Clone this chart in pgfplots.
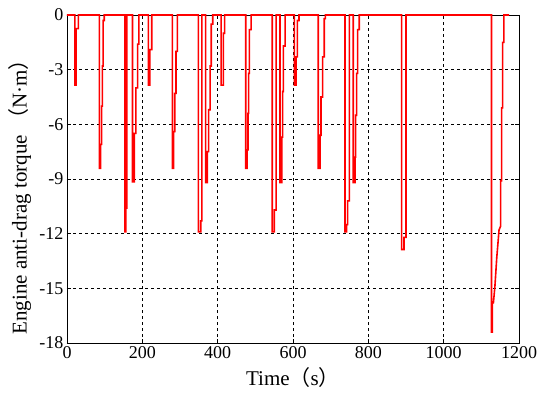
\documentclass[border=0pt]{standalone}
\usepackage{fontspec}
\setmainfont{Liberation Serif}
\newfontfamily\cjk{Noto Sans CJK SC}
\usepackage{pgfplots}
\pgfplotsset{compat=1.18}
\begin{document}
\begin{tikzpicture}
\begin{axis}[
  scale only axis, width=452pt, height=328pt,
  xmin=0, xmax=1200, ymin=-18, ymax=0,
  xtick={0,200,...,1200}, ytick={-18,-15,...,0},
  tick align=inside, major tick length=4.5pt,
  xmajorgrids, ymajorgrids,
  grid style={black, dash pattern=on 3pt off 3pt, line width=0.7pt},
  axis line style={black, line width=0.8pt},
  every tick/.style={black, line width=0.8pt},
  /pgf/number format/assume math mode=true,
  /pgf/number format/1000 sep={},
  tick label style={font=\fontsize{18}{18}\selectfont},
  label style={font=\fontsize{21}{21}\selectfont},
  xlabel={Time{\cjk （}s{\cjk ）}},
  xlabel style={at={([yshift=-42pt]rel axis cs:0.5,0)}, anchor=base},
  ylabel={Engine anti-drag torque {\cjk （}N·m{\cjk ）}},
  ylabel style={at={([xshift=-47pt,yshift=-13pt]rel axis cs:0,0.5)}, anchor=center},
  clip=false,
]
\coordinate (sw) at (rel axis cs:0,0);
\coordinate (ne) at (rel axis cs:1,1);
\addplot[red, line width=1.6pt] coordinates {
(0,0)
(21,0)(21,-3.85)(24,-3.85)(24,-0.75)(30,-0.75)(30,0)
(86,0)(86,-8.42)(89,-8.42)(89,-7.1)(92,-7.1)(92,-5.0)(94,-5.0)(94,-2.8)(96,-2.8)(96,-0.3)(99,-0.3)(99,0)
(154,0)(154,-11.9)(156,-11.9)(156,-10.6)(159,-10.6)(159,0)
(174,0)(174,-9.16)(179,-9.16)(179,-6.5)(183,-6.5)(183,-4.0)(187.5,-4.0)(187.5,-1.6)(191,-1.6)(191,0)
(216,0)(216,-3.85)(220,-3.85)(220,-1.9)(225,-1.9)(225,0)
(279.6,0)(279.6,-8.42)(283,-8.42)(283,-6.4)(286,-6.4)(286,-4.3)(289.5,-4.3)(289.5,-2.0)(293,-2.0)(293,0)
(348.6,0)(348.6,-11.9)(355,-11.9)(355,-11.3)(358,-11.3)(358,0)
(368,0)(368,-9.2)(372.6,-9.2)(372.6,-7.5)(376,-7.5)(376,-5.2)(380,-5.2)(380,-2.8)(383,-2.8)(383,-0.5)(387,-0.5)(387,0)
(409,0)(409,-3.85)(415,-3.85)(415,-1.0)(418.6,-1.0)(418.6,0)
(474.5,0)(474.5,-8.42)(478,-8.42)(478,-7.4)(480.5,-7.4)(480.5,-5.4)(482,-5.4)(482,-3.2)(484,-3.2)(484,-0.8)(489,-0.8)(489,0)
(545,0)(545,-11.9)(550.5,-11.9)(550.5,-10.7)(555,-10.7)(555,0)
(565.4,0)(565.4,-9.2)(570,-9.2)(570,-6.7)(572.5,-6.7)(572.5,-4.2)(574.5,-4.2)(574.5,-1.7)(579,-1.7)(579,0)
(603.5,0)(603.5,-3.85)(608,-3.85)(608,-2.3)(611.5,-2.3)(611.5,-0.3)(616,-0.3)(616,0)
(667,0)(667,-8.42)(671.6,-8.42)(671.6,-6.6)(674.3,-6.6)(674.3,-4.5)(678.7,-4.5)(678.7,-2.3)(683,-2.3)(683,-0.2)(686,-0.2)(686,0)
(738,0)(738,-11.9)(742.4,-11.9)(742.4,-11.5)(745,-11.5)(745,-10.2)(749.5,-10.2)(749.5,0)
(760,0)(760,-9.2)(764.5,-9.2)(764.5,-7.8)(766.3,-7.8)(766.3,-5.5)(769,-5.5)(769,-3.2)(771.6,-3.2)(771.6,-0.8)(776,-0.8)(776,0)
(888.4,0)(888.4,-12.87)(894.6,-12.87)(894.6,-12.2)(900,-12.2)(900,0)
(1127,0)(1127,-17.4)(1129,-17.4)(1129,-15.8)(1132,-15.8)(1136,-14.9)(1141,-13.3)(1147,-11.8)(1151,-11.6)(1151,-9.1)(1154,-9.1)(1154,-5.1)(1156.5,-5.1)(1156.5,-1.5)(1160,-1.5)(1160,0)
(1174,0)
};
\end{axis}
\pgfresetboundingbox
\path ([xshift=-67pt,yshift=-53pt]sw) rectangle ([xshift=31pt,yshift=15pt]ne);
\end{tikzpicture}
\end{document}
